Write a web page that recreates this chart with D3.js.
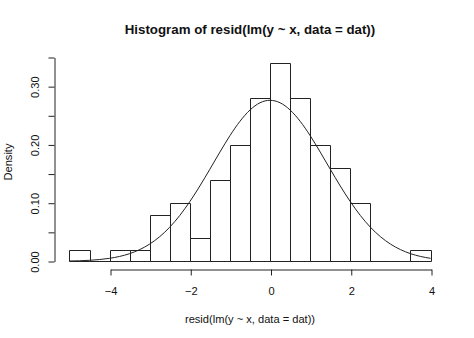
<!DOCTYPE html>
<html><head><meta charset="utf-8">
<script src="https://cdn.jsdelivr.net/npm/d3@7"></script>
<style>body{margin:0;background:#fff}svg{display:block}text{font-family:"Liberation Sans",Arial,sans-serif;fill:#111}</style>
</head><body>
<script>
// histogram bins (left edges, width 0.5) and densities
const binStarts = [-5,-4.5,-4,-3.5,-3,-2.5,-2,-1.5,-1,-0.5,0,0.5,1,1.5,2,2.5,3,3.5];
const densities = [0.02,0,0.02,0.02,0.08,0.10,0.04,0.14,0.20,0.28,0.34,0.28,0.20,0.16,0.10,0,0,0.02];
const binWidth = 0.5;
// fitted normal curve
const curveX = [-5,-4.75,-4.5,-4.25,-4,-3.75,-3.5,-3.25,-3,-2.75,-2.5,-2.25,-2,-1.75,-1.5,-1.25,-1,-0.75,-0.5,-0.25,0,0.25,0.5,0.75,1,1.25,1.5,1.75,2,2.25,2.5,2.75,3,3.25,3.5,3.75,4];
const curveY = [0.0006,0.0010,0.0018,0.0031,0.0052,0.0084,0.0132,0.0201,0.0296,0.0423,0.0585,0.0786,0.1023,0.1290,0.1578,0.1871,0.2152,0.2398,0.2591,0.2715,0.2757,0.2715,0.2591,0.2398,0.2152,0.1871,0.1578,0.1290,0.1023,0.0786,0.0585,0.0423,0.0296,0.0201,0.0132,0.0084,0.0052];
const xTicks = [-4,-2,0,2,4];
const yTicks = [0,0.05,0.10,0.15,0.20,0.25,0.30,0.35];
const yLabelled = [0,0.10,0.20,0.30];
const title = "Histogram of resid(lm(y ~ x, data = dat))";
const xTitle = "resid(lm(y ~ x, data = dat))";
const yTitle = "Density";

const W = 474, H = 338;
const svg = d3.select("body").append("svg").attr("width", W).attr("height", H);
const x = d3.scaleLinear().domain([-5.36, 4.36]).range([55, 445]);
const y = d3.scaleLinear().domain([-0.0136, 0.3536]).range([269.3, 54.8]);
const stroke = "#222";

// bars (drawn as closed paths so that zero-height bins still show on the baseline)
svg.append("g").selectAll("path").data(binStarts).join("path")
  .attr("d", (d, i) => {
    const x0 = Math.round(x(d)) + 0.5, x1 = Math.round(x(d + binWidth)) + 0.5;
    const y0 = Math.round(y(0)) + 0.5, y1 = Math.round(y(densities[i])) + 0.5;
    return `M${x0},${y0}L${x0},${y1}L${x1},${y1}L${x1},${y0}Z`;
  })
  .attr("fill", "none").attr("stroke", stroke).attr("stroke-width", 1);

// curve
const line = d3.line().x(d => x(d[0])).y(d => y(d[1])).curve(d3.curveMonotoneX);
svg.append("path").datum(curveX.map((v, i) => [v, curveY[i]]))
  .attr("d", line).attr("fill", "none").attr("stroke", stroke).attr("stroke-width", 1);

// x axis
const xa = d3.scaleLinear().domain([-4, 4]).range([Math.round(x(-4)) + 0.5, Math.round(x(4)) + 0.5]);
const gx = svg.append("g").attr("transform", "translate(0,269.5)")
  .call(d3.axisBottom(xa).tickValues(xTicks).tickSize(6).tickSizeOuter(0).tickPadding(12).tickFormat(d3.format("d")));
gx.selectAll("path,line").attr("stroke", stroke);
gx.selectAll("text").style("font-size", "11.1px").attr("fill", "#111").style("font-family", "Liberation Sans, Arial, sans-serif");

// y axis
const ya = d3.scaleLinear().domain([0, 0.35]).range([Math.round(y(0)) + 0.5, Math.round(y(0.35)) + 0.5]);
const gy = svg.append("g").attr("transform", "translate(54.5,0)")
  .call(d3.axisLeft(ya).tickValues(yTicks).tickSize(6).tickSizeOuter(0).tickPadding(0)
    .tickFormat(d => yLabelled.some(v => Math.abs(v - d) < 1e-9) ? d3.format(".2f")(d) : ""));
gy.selectAll("path,line").attr("stroke", stroke);
gy.selectAll("text").style("font-size", "11.1px").attr("fill", "#111")
  .style("font-family", "Liberation Sans, Arial, sans-serif")
  .attr("text-anchor", "middle").attr("dy", 0).attr("x", 0).attr("y", 0)
  .attr("transform", "translate(-15.5,0) rotate(-90)");

// titles
svg.append("text").attr("x", 250).attr("y", 33.5).attr("text-anchor", "middle")
  .style("font-size", "13.3px").style("font-weight", "bold").text(title);
svg.append("text").attr("x", 250).attr("y", 323).attr("text-anchor", "middle")
  .style("font-size", "11.1px").text(xTitle);
svg.append("text").attr("transform", "translate(11.5,162) rotate(-90)").attr("text-anchor", "middle")
  .style("font-size", "11.1px").text(yTitle);
</script>
</body></html>
